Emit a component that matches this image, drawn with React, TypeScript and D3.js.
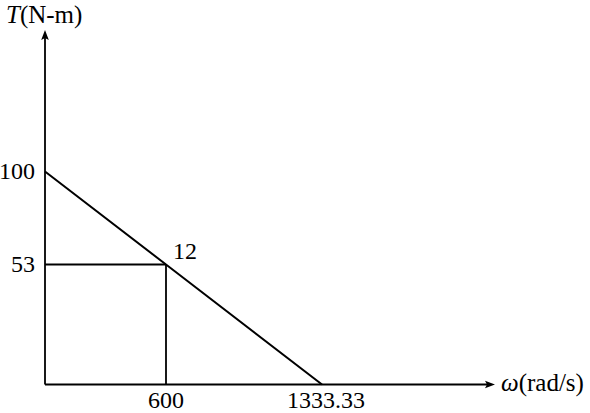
import React from "react";
import * as d3 from "d3";

const W = 590;
const H = 413;

// data
const speedTicks = [600, 1333.33];
const speedTickLabels = ["600", "1333.33"];
const torqueTicks = [100, 53];
const torqueTickLabels = ["100", "53"];
const lineSpeed = [0, 600, 1333.33];
const lineTorque = [100, 53, 0];
const opSpeed = 600;
const opTorque = 53;
const opLabel = "12";

const FONT = "'Liberation Serif', 'DejaVu Serif', serif";

export default function App() {
  // schematic (not-to-scale) diagram: piecewise linear scales
  const x = d3.scaleLinear().domain([0, 600, 1333.33]).range([45, 166, 322]);
  const y = d3.scaleLinear().domain([0, 53, 100]).range([384.5, 264.5, 171.5]);

  const x0 = x(0);
  const y0 = y(0);
  const xEnd = 495;
  const yEnd = 30;

  const pts = lineSpeed.map((w, i) => [x(w), y(lineTorque[i])] as [number, number]);
  const linePath = d3.line()(pts) || "";

  const fs = 24;

  return (
    <svg
      width={W}
      height={H}
      viewBox={`0 0 ${W} ${H}`}
      style={{ position: "absolute", left: 0, top: 0, background: "#fff" }}
    >
      <rect x={0} y={0} width={W} height={H} fill="#fff" />
      {/* axes */}
      <line x1={x0} y1={y0} x2={xEnd - 8} y2={y0} stroke="#000" strokeWidth={1.8} />
      <path d={`M${xEnd},${y0} L${xEnd - 10},${y0 - 3.8} L${xEnd - 8},${y0} L${xEnd - 10},${y0 + 3.8} Z`} fill="#000" />
      <line x1={x0} y1={y0} x2={x0} y2={yEnd + 8} stroke="#000" strokeWidth={1.8} />
      <path d={`M${x0},${yEnd} L${x0 - 3.8},${yEnd + 10} L${x0},${yEnd + 8} L${x0 + 3.8},${yEnd + 10} Z`} fill="#000" />

      {/* characteristic line */}
      <path d={linePath} fill="none" stroke="#000" strokeWidth={2} />

      {/* operating point guides */}
      <line x1={x0} y1={y(opTorque)} x2={x(opSpeed)} y2={y(opTorque)} stroke="#000" strokeWidth={1.8} />
      <line x1={x(opSpeed)} y1={y(opTorque)} x2={x(opSpeed)} y2={y0} stroke="#000" strokeWidth={1.8} />

      {/* labels */}
      <g fontFamily={FONT} fontSize={fs} fill="#000">
        {torqueTicks.map((t, i) => (
          <text key={"yt" + i} x={35} y={y(t) + 7} textAnchor="end">
            {torqueTickLabels[i]}
          </text>
        ))}
        {speedTicks.map((s, i) => (
          <text key={"xt" + i} x={x(s) + (i === 1 ? 4 : 0)} y={408} textAnchor="middle">
            {speedTickLabels[i]}
          </text>
        ))}
        <text x={x(opSpeed) + 7} y={y(opTorque) - 6}>
          {opLabel}
        </text>
        <text x={6} y={23} fontSize={25}>
          <tspan fontStyle="italic">T</tspan>
          <tspan>(N-m)</tspan>
        </text>
        <text x={501} y={391} fontSize={25}>
          <tspan fontStyle="italic">ω</tspan>
          <tspan>(rad/s)</tspan>
        </text>
      </g>
    </svg>
  );
}
